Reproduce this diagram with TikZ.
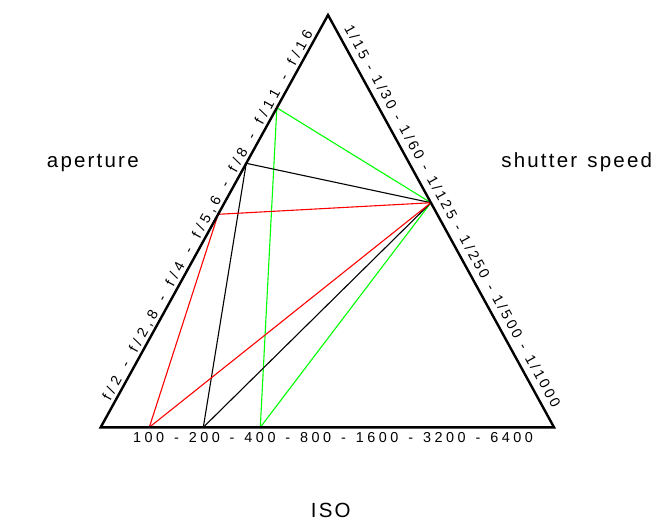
\documentclass[tikz,border=0pt]{standalone}
\usepackage{fontspec}
\setmainfont{Liberation Sans}
\makeatletter
\def\trkend{\trkend}
\newcommand\trk[3]{\def\trk@t{#1}\def\trk@g{#2}\trk@loop#3\trkend\kern-\trk@t\relax}
\def\trk@loop#1{\ifx#1\trkend\else\ifx#1|\hspace*{\trk@g}\else#1\kern\trk@t\relax\fi\expandafter\trk@loop\fi}
\makeatother
\newcommand\myLabFont{\fontsize{20.5}{24}\selectfont}
\newcommand\mySmallFont{\fontsize{14.4}{17}\selectfont}
\usetikzlibrary{calc}
\tikzset{
  edge/.style={line width=2.4pt, line join=miter},
  ray/.style={line width=1.1pt},
  lab/.style={anchor=base, inner sep=0pt, font=\myLabFont},
  edgetext/.style={anchor=base, inner sep=0pt, font=\mySmallFont}
}
\definecolor{rgreen}{RGB}{0,255,0}
\definecolor{rred}{RGB}{255,0,0}
\begin{document}
\begin{tikzpicture}[x=1pt,y=-1pt]
\useasboundingbox (0,0) rectangle (658,530);
\coordinate (T) at (328,15);
\coordinate (BL) at (100.7,427.3);
\coordinate (BR) at (554,427.3);
\coordinate (S) at ($(T)!0.4553!(BR)$);
\coordinate (ag) at ($(BL)!0.775!(T)$);
\coordinate (ab) at ($(BL)!0.6403!(T)$);
\coordinate (ar) at ($(BL)!0.5166!(T)$);
\coordinate (ir) at (149.3,427.3);
\coordinate (ib) at (203.3,427.3);
\coordinate (ig) at (260.3,427.3);
% rays
\draw[ray, rgreen] (ag) -- (S);
\draw[ray, rgreen] (ag) -- (ig);
\draw[ray, rgreen] (ig) -- (S);
\draw[ray, black] (ab) -- (S);
\draw[ray, black] (ab) -- (ib);
\draw[ray, black] (ib) -- (S);
\draw[ray, rred] (ar) -- (S);
\draw[ray, rred] (ar) -- (ir);
\draw[ray, rred] (ir) -- (S);
% triangle
\draw[edge] (T) -- (BR) -- (BL) -- cycle;
% edge texts
\coordinate (ML) at ($(BL)!0.504!(T)$);
\coordinate (MR) at ($(T)!0.5026!(BR)$);
\coordinate (PL) at ($(ML)!4pt!90:(T)$);
\coordinate (PR) at ($(MR)!7.5pt!90:(BR)$);
\node[edgetext, rotate=61.13] (ltext) at (PL) {\trk{4.4pt}{8.2pt}{f/2|-|f/2,8|-|f/4|-|f/5,6|-|f/8|-|f/11|-|f/16}};
\node[edgetext, rotate=-61.26] (rtext) at (PR) {\trk{2.74pt}{5.4pt}{1/15|-|1/30|-|1/60|-|1/125|-|1/250|-|1/500|-|1/1000}};
\node[edgetext] (btext) at (333,442.7) {\trk{3.5pt}{6.45pt}{100|-|200|-|400|-|800|-|1600|-|3200|-|6400}};
% labels
\node[lab] (aperture) at (92.8,167.3) {\trk{2.2pt}{7.95pt}{aperture}};
\node[lab] (shutter) at (576.7,167) {\trk{2.2pt}{7.95pt}{shutter|speed}};
\node[lab] (iso) at (330.8,517.3) {\trk{2.2pt}{7.95pt}{ISO}};
\end{tikzpicture}
\end{document}
